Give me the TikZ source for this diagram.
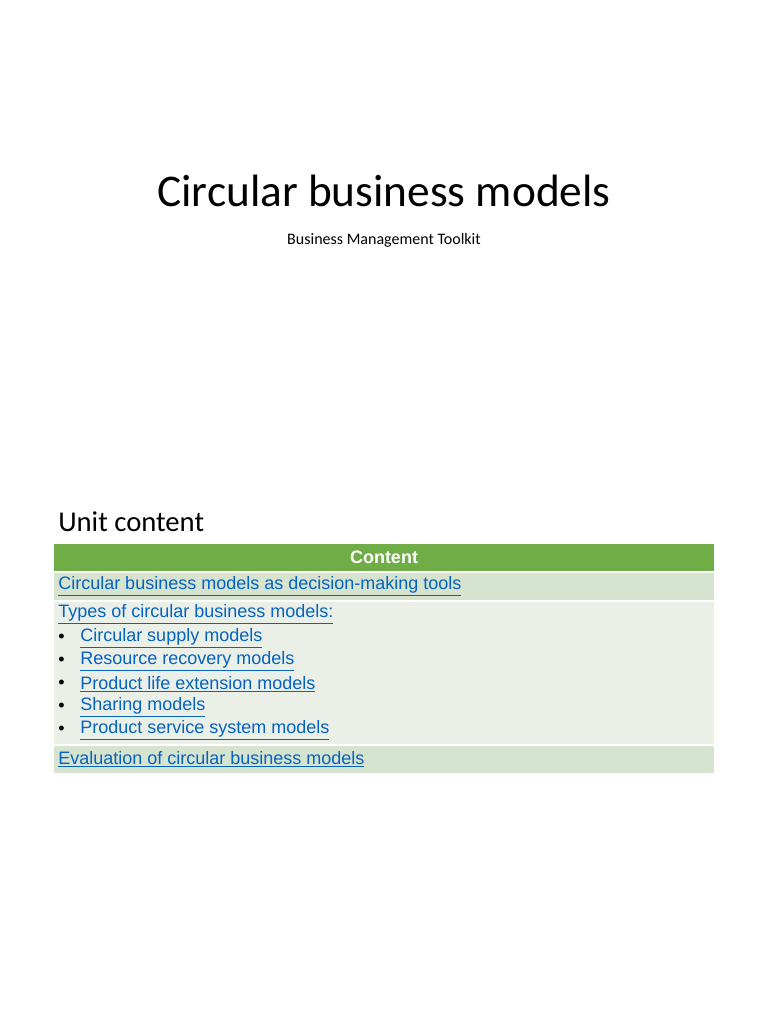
\documentclass[tikz,border=0pt]{standalone}
\usepackage{fontspec}
\setmainfont{Liberation Sans}
\newfontfamily\calib{Carlito}
\definecolor{hdr}{HTML}{70AD47}
\definecolor{rowa}{HTML}{D5E3CF}
\definecolor{rowb}{HTML}{EAEFE8}
\definecolor{lnk}{HTML}{0563C1}
\begin{document}
\begin{tikzpicture}[x=0.75pt,y=-0.75pt,
  cell/.style={inner sep=0pt,anchor=west,font=\fontsize{13.5}{16}\selectfont,text=lnk},
  bul/.style={inner sep=0pt,anchor=west,font=\fontsize{13.5}{16}\selectfont}]
\useasboundingbox (0,0) rectangle (768,1024);
\fill[white] (0,0) rectangle (768,1024);
\node[inner sep=0pt,font=\calib\fontsize{34}{40}\selectfont] (title) at (384,191) {Circular business models};
\node[inner sep=0pt,font=\calib\fontsize{12}{14}\selectfont] (sub) at (384,240) {Business Management Toolkit};
\node[inner sep=0pt,anchor=west,font=\calib\fontsize{21.5}{26}\selectfont] (unit) at (58,522) {Unit content};
\fill[hdr] (54,544) rectangle (714,571);
\fill[rowa] (54,573) rectangle (714,600);
\fill[rowb] (54,602) rectangle (714,744);
\fill[rowa] (54,746) rectangle (714,773);
\node[inner sep=0pt,text=white,font=\bfseries\fontsize{13.5}{16}\selectfont] (head) at (384,557) {Content};
\node[cell] (r1) at (58,586) {\underline{Circular business models as decision-making tools}};
\node[cell] (r2) at (58,614) {\underline{Types of circular business models:}};
\foreach \y/\t [count=\i] in {638/Circular supply models,661/Resource recovery models,684/Product life extension models,707/Sharing models,730/Product service system models}{
  \node[bul] (b\i) at (58,\y) {•};
  \node[cell] (l\i) at (80,\y) {\underline{\t}};
}
\node[cell] (r3) at (58,759) {\underline{Evaluation of circular business models}};
\end{tikzpicture}
\end{document}
